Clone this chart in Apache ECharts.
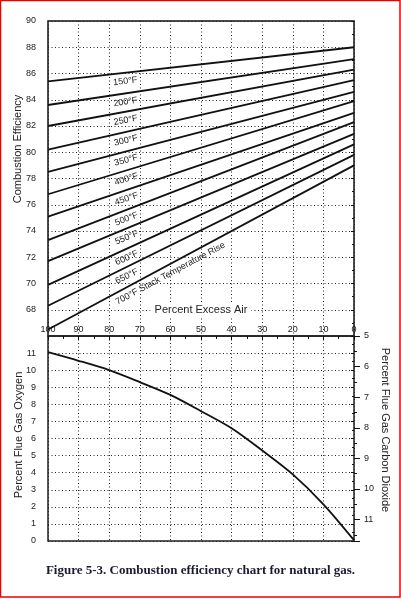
<!DOCTYPE html>
<html>
<head>
<meta charset="utf-8">
<script src="https://cdn.jsdelivr.net/npm/echarts@6/dist/echarts.min.js"></script>
<style>
  html, body { margin: 0; padding: 0; background: #fff; }
  #main { width: 401px; height: 599px; }
</style>
</head>
<body>
<div id="main"></div>
<script>
var chart = echarts.init(document.getElementById('main'), null, { renderer: 'canvas' });

// top chart: efficiency vs percent excess air, one line per stack temperature rise
var temps = ['150°F', '200°F', '250°F', '300°F', '350°F', '400°F', '450°F', '500°F', '550°F', '600°F', '650°F', '700°F Stack Temperature Rise']
var effAt100 = [85.4, 83.6, 82.0, 80.2, 78.5, 76.8, 75.1, 73.3, 71.7, 69.9, 68.3, 66.5]  // at 100% excess air
var effAt0 = [88.0, 87.1, 86.3, 85.5, 84.6, 83.9, 83.0, 82.3, 81.4, 80.6, 79.8, 79.0]    // at 0% excess air

// bottom chart: flue gas oxygen vs excess air
var airPts = [100, 90, 80, 70, 60, 50, 40, 30, 20, 10, 0]
var oxygen = [11.05, 10.55, 10.0, 9.3, 8.55, 7.6, 6.6, 5.3, 3.9, 2.15, 0.05]

var font = 'Liberation Sans'
var dotted = { color: '#222', width: 1, type: [1, 2.5] }

var series = []
for (var i = 0; i < temps.length; i++) {
    series.push({
        name: temps[i],
        type: 'line',
        xAxisIndex: 0,
        yAxisIndex: 0,
        symbol: 'none',
        silent: true,
        lineStyle: { color: '#111', width: 1.8 },
        data: [[100, effAt100[i]], [0, effAt0[i]]]
    })
}
var o2data = []
for (var k = 0; k < airPts.length; k++) {
    o2data.push([airPts[k], oxygen[k]])
}
series.push({
    name: 'O2',
    type: 'line',
    xAxisIndex: 1,
    yAxisIndex: 1,
    symbol: 'none',
    smooth: 0.3,
    lineStyle: { color: '#111', width: 1.8 },
    data: o2data
})

chart.setOption({
    animation: false,
    title: {
        text: 'Figure 5-3. Combustion efficiency chart for natural gas.',
        left: 'center',
        top: 559,
        textStyle: { fontFamily: 'Liberation Serif', fontWeight: 'bold', fontSize: 13, color: '#1b1b30' }
    },
    grid: [
        { left: 48, right: 47, top: 21, height: 315, show: true, borderColor: '#111', borderWidth: 1.5 },
        { left: 48, right: 47, top: 336, height: 205, show: true, borderColor: '#222', borderWidth: 1.5 }
    ],
    xAxis: [
        {
            gridIndex: 0, type: 'value', min: 0, max: 100, interval: 10, inverse: true,
            axisLine: { show: false },
            axisTick: { show: true, length: 4, lineStyle: { color: '#111' } },
            minorTick: { show: true, splitNumber: 2, length: 3, lineStyle: { color: '#111' } },
            axisLabel: { inside: true, margin: 2, fontSize: 9, fontFamily: font, color: '#222' },
            splitLine: { show: true, lineStyle: dotted }
        },
        {
            gridIndex: 1, type: 'value', min: 0, max: 100, interval: 10, inverse: true,
            axisLine: { show: false },
            axisTick: { show: false },
            axisLabel: { show: false },
            splitLine: { show: true, lineStyle: dotted }
        }
    ],
    yAxis: [
        {
            gridIndex: 0, type: 'value', min: 66, max: 90, interval: 2,
            axisLine: { show: false },
            axisTick: { show: true, length: 3, lineStyle: { color: '#111' } },
            minorTick: { show: true, splitNumber: 2, length: 2, lineStyle: { color: '#111' } },
            axisLabel: {
                margin: 12, fontSize: 9, fontFamily: font, color: '#222',
                formatter: function (v) { return v >= 68 ? v : '' }
            },
            splitLine: { show: true, lineStyle: dotted }
        },
        {
            gridIndex: 1, type: 'value', min: 0, max: 12, interval: 1,
            axisLine: { show: false },
            axisTick: { show: true, length: 3, lineStyle: { color: '#111' } },
            minorTick: { show: true, splitNumber: 2, length: 2, lineStyle: { color: '#111' } },
            axisLabel: {
                margin: 12, fontSize: 9, fontFamily: font, color: '#222',
                formatter: function (v) { return v <= 11 ? v : '' }
            },
            splitLine: { show: true, lineStyle: dotted }
        },
        {
            gridIndex: 1, type: 'value', position: 'right', inverse: true, min: 5, max: 11.7, interval: 1,
            axisLine: { show: false },
            axisTick: { show: true, length: 6, lineStyle: { color: '#111' } },
            minorTick: { show: true, splitNumber: 2, length: 3, lineStyle: { color: '#111' } },
            axisLabel: {
                margin: 10, fontSize: 9, fontFamily: font, color: '#222',
                formatter: function (v) { return (v % 1 === 0 && v <= 11) ? v : '' }
            },
            splitLine: { show: false }
        }
    ],
    series: series
})

// labels along each temperature line, placed through the chart's own scales
var elements = []
var labelAt = 79
for (var j = 0; j < temps.length; j++) {
    var p1 = chart.convertToPixel({ gridIndex: 0 }, [100, effAt100[j]])
    var p2 = chart.convertToPixel({ gridIndex: 0 }, [0, effAt0[j]])
    var ang = Math.atan2(p1[1] - p2[1], p2[0] - p1[0])
    var v = effAt100[j] + (effAt0[j] - effAt100[j]) * (100 - labelAt) / 100
    var p = chart.convertToPixel({ gridIndex: 0 }, [labelAt, v])
    elements.push({
        type: 'text',
        x: p[0],
        y: p[1],
        rotation: ang,
        silent: true,
        style: {
            text: temps[j], x: 0, y: 4,
            align: 'left', verticalAlign: 'top',
            font: '9px "Liberation Sans"', fill: '#222'
        }
    })
}

var pa = chart.convertToPixel({ gridIndex: 0 }, [50, 68])
elements.push({
    type: 'text', x: pa[0], y: pa[1], silent: true,
    style: {
        text: 'Percent Excess Air', align: 'center', verticalAlign: 'middle',
        font: '11px "Liberation Sans"', fill: '#222',
        backgroundColor: '#fff', padding: [1, 4]
    }
})
elements.push({
    type: 'text', x: 18, y: 149, rotation: Math.PI / 2, silent: true,
    style: { text: 'Combustion Efficiency', align: 'center', verticalAlign: 'middle', font: '11px "Liberation Sans"', fill: '#222' }
})
elements.push({
    type: 'text', x: 19, y: 435, rotation: Math.PI / 2, silent: true,
    style: { text: 'Percent Flue Gas Oxygen', align: 'center', verticalAlign: 'middle', font: '11px "Liberation Sans"', fill: '#222' }
})
elements.push({
    type: 'text', x: 385, y: 430, rotation: -Math.PI / 2, silent: true,
    style: { text: 'Percent Flue Gas Carbon Dioxide', align: 'center', verticalAlign: 'middle', font: '11px "Liberation Sans"', fill: '#222' }
})
// red frame round the figure
elements.push({
    type: 'rect', silent: true,
    shape: { x: 0.5, y: 0.5, width: 399.5, height: 596.5 },
    style: { fill: 'none', stroke: '#e00', lineWidth: 1.5 }
})

chart.setOption({ graphic: elements })
</script>
</body>
</html>
